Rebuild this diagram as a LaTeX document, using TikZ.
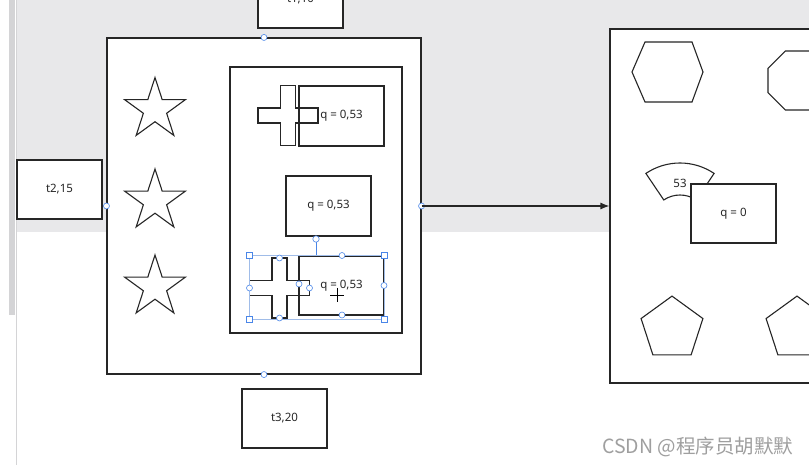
\documentclass[tikz,border=0pt]{standalone}
\usepackage{fontspec}
\setmainfont{Noto Sans}
\newfontfamily\cjkfont{Noto Sans CJK SC}
\usepackage{xcolor}
\usepackage{tikz}
\usetikzlibrary{arrows,arrows.meta,calc,positioning,shapes}

\definecolor{canvasgray}{RGB}{232,232,234}
\definecolor{bargray}{RGB}{212,212,214}
\definecolor{handleblue}{RGB}{74,134,232}
\definecolor{selblue}{RGB}{160,188,232}
\definecolor{inkgray}{RGB}{38,38,38}

\tikzset{
    shapeline/.style={draw=inkgray, line width=1.1pt},
    box/.style={shapeline, fill=white, text=inkgray, inner sep=0pt, font=\fontsize{11.5}{13}\selectfont},
    handle/.style={draw=handleblue, fill=white, line width=0.6pt},
    grip/.style={draw=handleblue, fill=white, line width=0.6pt, minimum size=6pt, inner sep=0pt},
    plus/.pic={\draw[shapeline] (-7.5,-30) -- (7.5,-30) -- (7.5,-7.5) -- (30,-7.5) -- (30,7.5) -- (7.5,7.5) -- (7.5,30) -- (-7.5,30) -- (-7.5,7.5) -- (-30,7.5) -- (-30,-7.5) -- (-7.5,-7.5) -- cycle;}
}

\begin{document}
\begin{tikzpicture}[x=1pt, y=-1pt]
        \useasboundingbox (0,0) rectangle (809,465);
        % editor canvas
        \fill[white] (0,0) rectangle (809,465);
        \fill[canvasgray] (17,0) rectangle (809,232);
        \fill[bargray] (9,0) rectangle (15,315);
        \draw[bargray, line width=0.6pt] (16.5,0) -- (16.5,465);

        % left group
        \node[box, minimum width=85pt, minimum height=58pt] (tone) at (300.5,-1) {t1,10};
        \node[box, minimum width=314pt, minimum height=336pt] (outer) at (264,206) {};
        \node[box, minimum width=85pt, minimum height=59pt] (ttwo) at (59.5,189.5) {t2,15};
        \node[box, minimum width=85pt, minimum height=59pt] (tthree) at (284.5,418.5) {t3,20};
        \foreach \y/\n in {109.5/a, 201/b, 287/c}
            \node[shapeline, star, star points=5, star point ratio=2.618, minimum size=64pt, inner sep=0pt] (star\n) at (155,\y) {};
        \node[box, minimum width=172pt, minimum height=266pt] (inner) at (316,200) {};
        \node[box, minimum width=85pt, minimum height=60pt] (qa) at (341.5,116) {q = 0,53};
        \pic at (288,115.5) {plus};
        \node[box, minimum width=85pt, minimum height=60pt] (qb) at (328.5,206) {q = 0,53};
        \node[box, minimum width=85pt, minimum height=59pt] (qc) at (341.5,285.5) {q = 0,53};
        \pic at (279.5,288) {plus};

        % selection of the lower group
        \coordinate (rot) at (316,239);
        \draw[selblue, line width=0.6pt] (249,255) rectangle (384,319);
        \draw[handleblue, line width=0.6pt] (rot) -- (316,255);
        \draw[handle] (rot) circle[radius=3.2pt];
        \foreach \p in {(249,255), (384,255), (249,319), (384,319)}
            \node[grip] at \p {};
        \foreach \p in {(279.5,258), (342,255.5), (384,285.5), (342,315), (279.5,318), (249.5,288), (309.5,288), (299,284)}
            \draw[handle] \p circle[radius=3pt];
        \draw[black, line width=0.8pt] (330,295) -- (344,295) (337,288) -- (337,302);

        % handles of the outer box
        \foreach \a in {north, south, east, west}
            \draw[handle] (outer.\a) circle[radius=3pt];

        % right group
        \node[box, minimum width=210pt, minimum height=354pt] (right) at (715,206) {};
        \draw[-{Latex[length=9pt, width=7pt]}, line width=1.2pt, inkgray] (outer.east) -- (right.west);
        \draw[shapeline] (645,42) -- (692,42) -- (703,72) -- (692,102) -- (645,102) -- (632,72) -- cycle;
        \draw[shapeline] (768,68.3) -- (768,92.7) -- (785.3,110) -- (809.7,110) -- (827,92.7) -- (827,68.3) -- (809.7,51) -- (785.3,51) -- cycle;
        \begin{scope}[shift={(680,224)}]
            \draw[shapeline] (124:61pt) arc[start angle=124, end angle=56, radius=61pt] -- (56:29pt) arc[start angle=56, end angle=124, radius=29pt] -- cycle;
            \node[text=inkgray, font=\fontsize{11.5}{13}\selectfont] (arcval) at (0pt,41pt) {53};
        \end{scope}
        \node[box, minimum width=85pt, minimum height=59pt] (qzero) at (733.5,213.5) {q = 0};
        \node[shapeline, regular polygon, regular polygon sides=5, minimum size=65pt, inner sep=0pt] (penta) at (672,328.6) {};
        \node[shapeline, regular polygon, regular polygon sides=5, minimum size=65pt, inner sep=0pt] (pentb) at (797,328.6) {};

        % watermark
        \node[anchor=west, text=gray!75, font=\cjkfont\fontsize{19.5}{21}\selectfont, inner sep=0pt] (mark) at (602,447) {CSDN @程序员胡默默};
    \end{tikzpicture}
\end{document}
